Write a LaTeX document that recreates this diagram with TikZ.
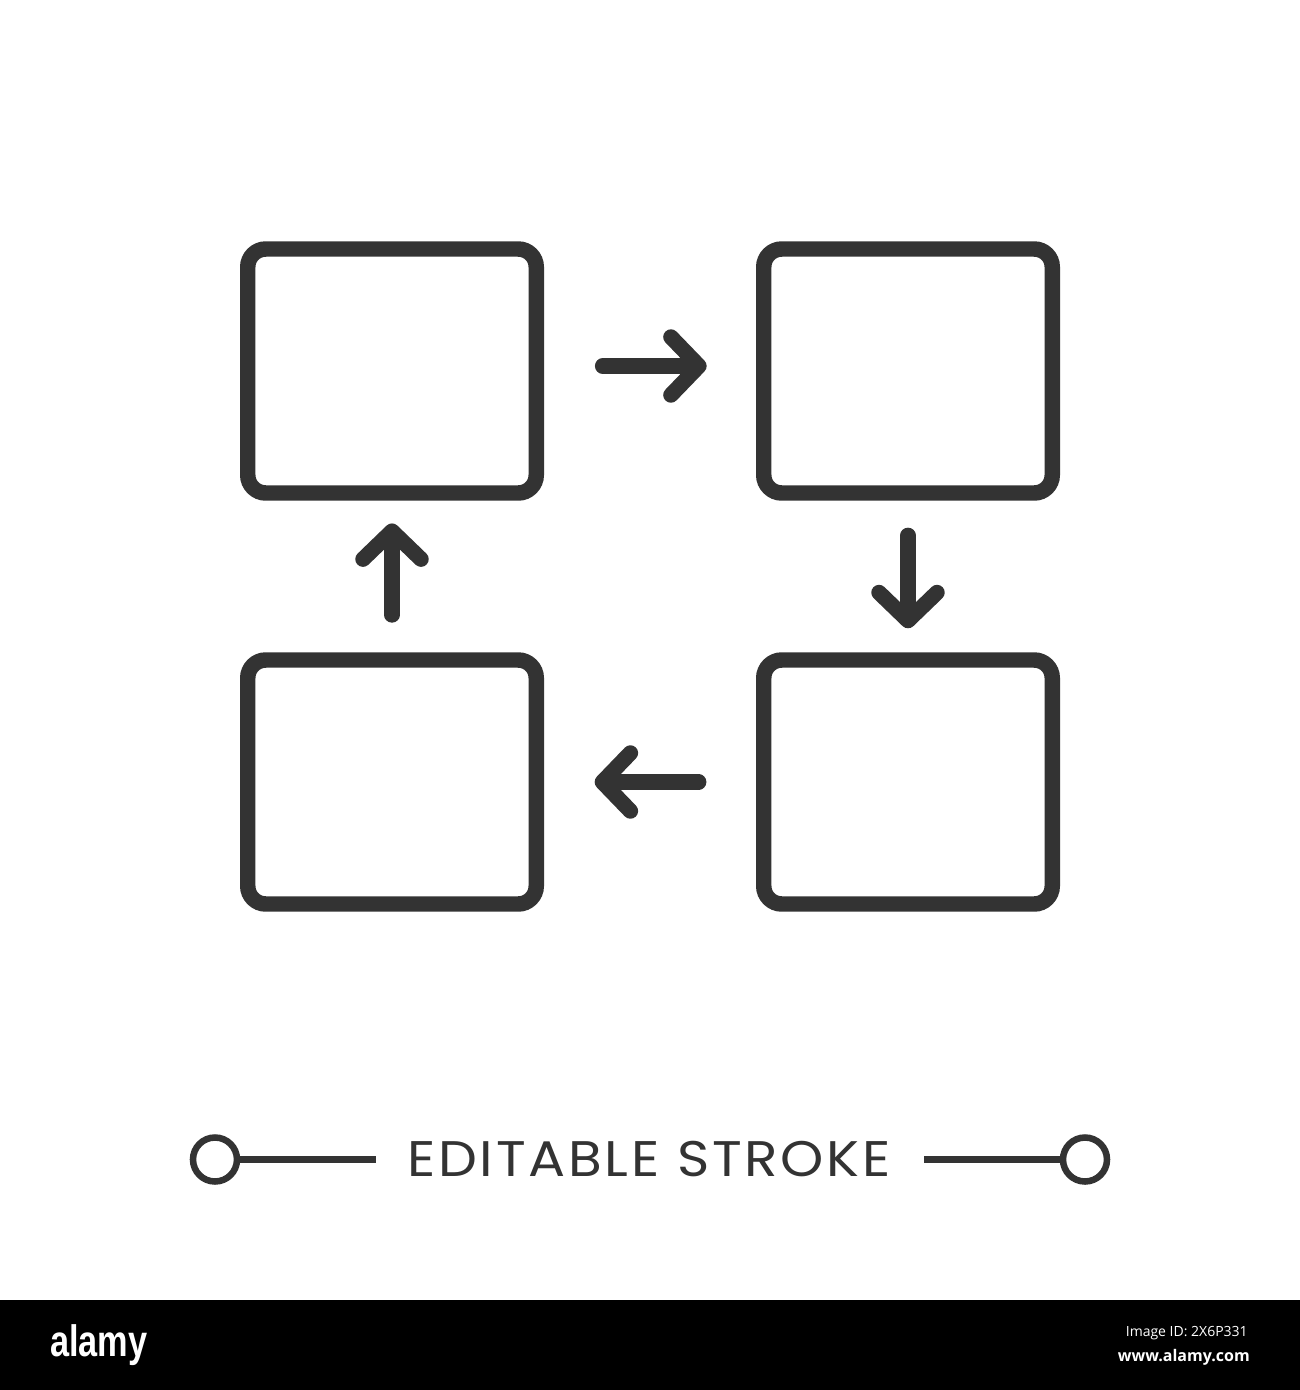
\documentclass[tikz,border=0pt]{standalone}
\usepackage{fontspec}
\usepackage{tikz}
\usetikzlibrary{arrows.meta}
\usepackage{xcolor}
\newfontfamily\labelfont[LetterSpace=5]{Poppins}
\newfontfamily\logofont{Liberation Sans}
\newfontfamily\idfont{Open Sans}
\definecolor{ink}{RGB}{51,51,51}
\tikzset{
  cell/.style={draw=ink,line width=11.6pt,rounded corners=13.5pt,
    minimum width=216.4pt,minimum height=183pt,inner sep=0pt},
  flow/.style={draw=ink,line width=11.6pt,line cap=round,
    -{Straight Barb[length=21pt,width=43.5pt,round]}},
  ring/.style={circle,draw=ink,line width=4.9pt,minimum size=33pt,inner sep=0pt},
  rule/.style={draw=ink,line width=4.7pt}
}

\begin{document}
\begin{tikzpicture}[x=0.75pt,y=0.75pt,yscale=-1,xscale=1]
\useasboundingbox (0,0) rectangle (1300,1390);
\fill[white] (0,0) rectangle (1300,1300);
%Shape: Rectangle [boxes]
\node[cell] (tl) at (392,371) {};
\node[cell] (tr) at (908,371) {};
\node[cell] (br) at (908,782) {};
\node[cell] (bl) at (392,782) {};
%Straight Lines [cycle arrows]
\draw[flow,shorten <=44pt,shorten >=37pt] ([yshift=-3.75pt]tl.east) -- ([yshift=-3.75pt]tr.west);
\draw[flow,shorten <=26pt,shorten >=18pt] (tr.south) -- (br.north);
\draw[flow,shorten <=43pt,shorten >=38pt] (br.west) -- (bl.east);
\draw[flow,shorten <=28pt,shorten >=17pt] (bl.north) -- (tl.south);
%Shape: Circle [end marks]
\node[ring] (lring) at (215,1159.5) {};
\node[ring] (rring) at (1085,1159.5) {};
\coordinate (lend) at (376,1159.5);
\coordinate (rend) at (924,1159.5);
\draw[rule] (lring) -- (lend);
\draw[rule] (rend) -- (rring);
% Text Node
\node[anchor=base,inner sep=0pt,text=ink,xscale=1.1] (caption) at (649,1176.7)
  {\labelfont\fontsize{37.5}{40}\selectfont EDITABLE STROKE};
%Shape: Rectangle [footer band]
\fill[black] (0,1300) rectangle (1300,1390);
% Text Node
\node[anchor=base west,inner sep=0pt,text=white,xscale=0.78] (logo) at (50,1356.7)
  {\logofont\bfseries\fontsize{33}{36}\selectfont alamy};
% Text Node
\node[anchor=base east,inner sep=0pt,text=white] (imageid) at (1248,1336.7)
  {\idfont\fontsize{10.5}{12}\selectfont Image ID: 2X6P331};
% Text Node
\node[anchor=base east,inner sep=0pt,text=white] (site) at (1250,1361.7)
  {\idfont\bfseries\fontsize{12}{14}\selectfont www.alamy.com};
\end{tikzpicture}
\end{document}
